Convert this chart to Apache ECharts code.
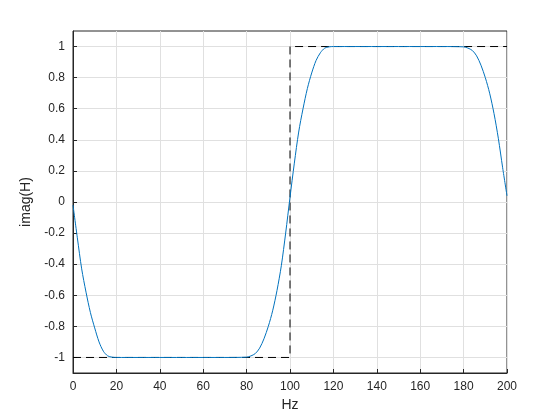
<!DOCTYPE html>
<html><head><meta charset="utf-8">
<script src="https://cdn.jsdelivr.net/npm/echarts@6/dist/echarts.min.js"></script>
<style>html,body{margin:0;background:#fff}#c{width:560px;height:420px}</style>
</head><body><div id="c"></div>
<script>
const freqs = [0,2,4,6,8,10,12,14,16,18,20,30,40,50,60,70,80,82,84,86,88,90,92,94,96,98,100,102,104,106,108,110,112,114,116,118,120,130,140,150,160,170,180,182,184,186,188,190,192,194,196,198,200];
const imagH = [-0.02,-0.23,-0.43,-0.58,-0.71,-0.81,-0.9,-0.96,-0.99,-0.998,-1,-1,-1,-1,-1,-1,-0.998,-0.99,-0.975,-0.94,-0.88,-0.8,-0.7,-0.57,-0.41,-0.2,0.03,0.25,0.45,0.6,0.73,0.83,0.91,0.96,0.99,0.998,1,1,1,1,1,1,0.998,0.99,0.975,0.94,0.88,0.8,0.7,0.57,0.41,0.22,0.04];
const idealX = [0,100,100,200];
const idealY = [-1,-1,1,1];
const xTicks = [0,20,40,60,80,100,120,140,160,180,200];
const yTicks = [-1,-0.8,-0.6,-0.4,-0.2,0,0.2,0.4,0.6,0.8,1];
const font = 'Liberation Sans, Arial, sans-serif';
const chart = echarts.init(document.getElementById('c'));
chart.setOption({
  animation:false,
  grid:{left:73,right:53,top:31,bottom:47,show:true,borderColor:'#262626',borderWidth:1},
  xAxis:{type:'value',min:0,max:200,interval:20,name:'Hz',nameLocation:'middle',nameGap:24,
    nameTextStyle:{color:'#262626',fontSize:14,fontFamily:font},
    axisLine:{onZero:false,lineStyle:{color:'#262626'}},axisTick:{inside:true,length:4,lineStyle:{color:'#262626'}},
    axisLabel:{color:'#262626',fontSize:12,fontFamily:font,formatter:v=>String(v)},
    splitLine:{lineStyle:{color:'#e0e0e0'}}},
  yAxis:{type:'value',min:-1.1,max:1.1,
    customValues:yTicks,
    name:'imag(H)',nameLocation:'middle',nameGap:34,
    nameTextStyle:{color:'#262626',fontSize:14,fontFamily:font},
    axisLine:{show:true,onZero:false,lineStyle:{color:'#262626'}},axisTick:{show:true,inside:true,length:4,lineStyle:{color:'#262626'},customValues:yTicks},
    axisLabel:{color:'#262626',fontSize:12,fontFamily:font,customValues:yTicks,formatter:v=>String(Math.round(v*10)/10)},
    splitLine:{show:true,lineStyle:{color:'#e0e0e0'}}},
  series:[
    {type:'line',data:idealX.map((x,i)=>[x,idealY[i]]),symbol:'none',lineStyle:{color:'#000',width:1,type:[8,5]}},
    {type:'line',data:freqs.map((x,i)=>[x,imagH[i]]),symbol:'none',smooth:0.3,lineStyle:{color:'#0072bd',width:1}}
  ]
});
</script></body></html>
